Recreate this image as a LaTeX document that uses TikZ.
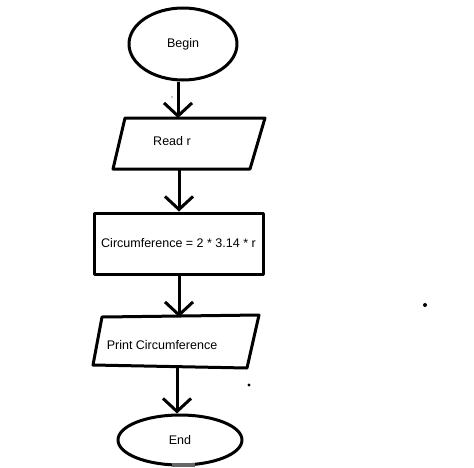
\documentclass[tikz,border=0pt]{standalone}
\usepackage{fontspec}
\setmainfont{Liberation Sans}
\usetikzlibrary{shapes.geometric,arrows.meta}
\begin{document}
\begin{tikzpicture}[x=1pt,y=-1pt,
  shapeline/.style={draw=black,line width=3pt,line join=round},
  lbl/.style={font=\fontsize{12.5}{14}\selectfont,inner sep=0pt},
  arr/.style={line width=3pt,-{Straight Barb[length=13pt,width=28pt,line width=3pt]}}]
\useasboundingbox (0,0) rectangle (474,467);
% Begin
\node[shapeline,ellipse,minimum width=108pt,minimum height=72pt,inner sep=0pt,lbl] (begin) at (183,44) {Begin};
% Read r
\draw[shapeline] (125,118) -- (265,118) -- (250,169) -- (113,169) -- cycle;
\node[lbl] (read) at (172,141) {Read r};
\coordinate (readtop) at (178,118);
\coordinate (readbot) at (179,169);
% Calculation
\node[shapeline,rectangle,minimum width=169pt,minimum height=61pt,inner sep=0pt,lbl] (calc) at (178.5,243.5) {Circumference = 2 * 3.14 * r};
% Print
\draw[shapeline] (102,317) -- (259,315) -- (247,368) -- (93,365) -- cycle;
\node[lbl] (print) at (162,345) {Print Circumference};
\coordinate (printtop) at (179,317);
\coordinate (printbot) at (177,367);
% End
\node[shapeline,ellipse,minimum width=124pt,minimum height=50pt,inner sep=0pt,lbl] (end) at (180,440) {End};
% connectors
\draw[arr] (begin.south -| readtop) -- (readtop);
\draw[arr] (readbot) -- (readbot |- calc.north);
\draw[arr] (calc.south -| printtop) -- (printtop);
\draw[arr] (printbot) -- (printbot |- end.north);
% stray marks
\fill[black!60] (172,463) rectangle (195,467);
\fill (425,305) circle (2);
\fill (249,385) circle (1.6);
\fill (172,97) circle (0.7);
\end{tikzpicture}
\end{document}
